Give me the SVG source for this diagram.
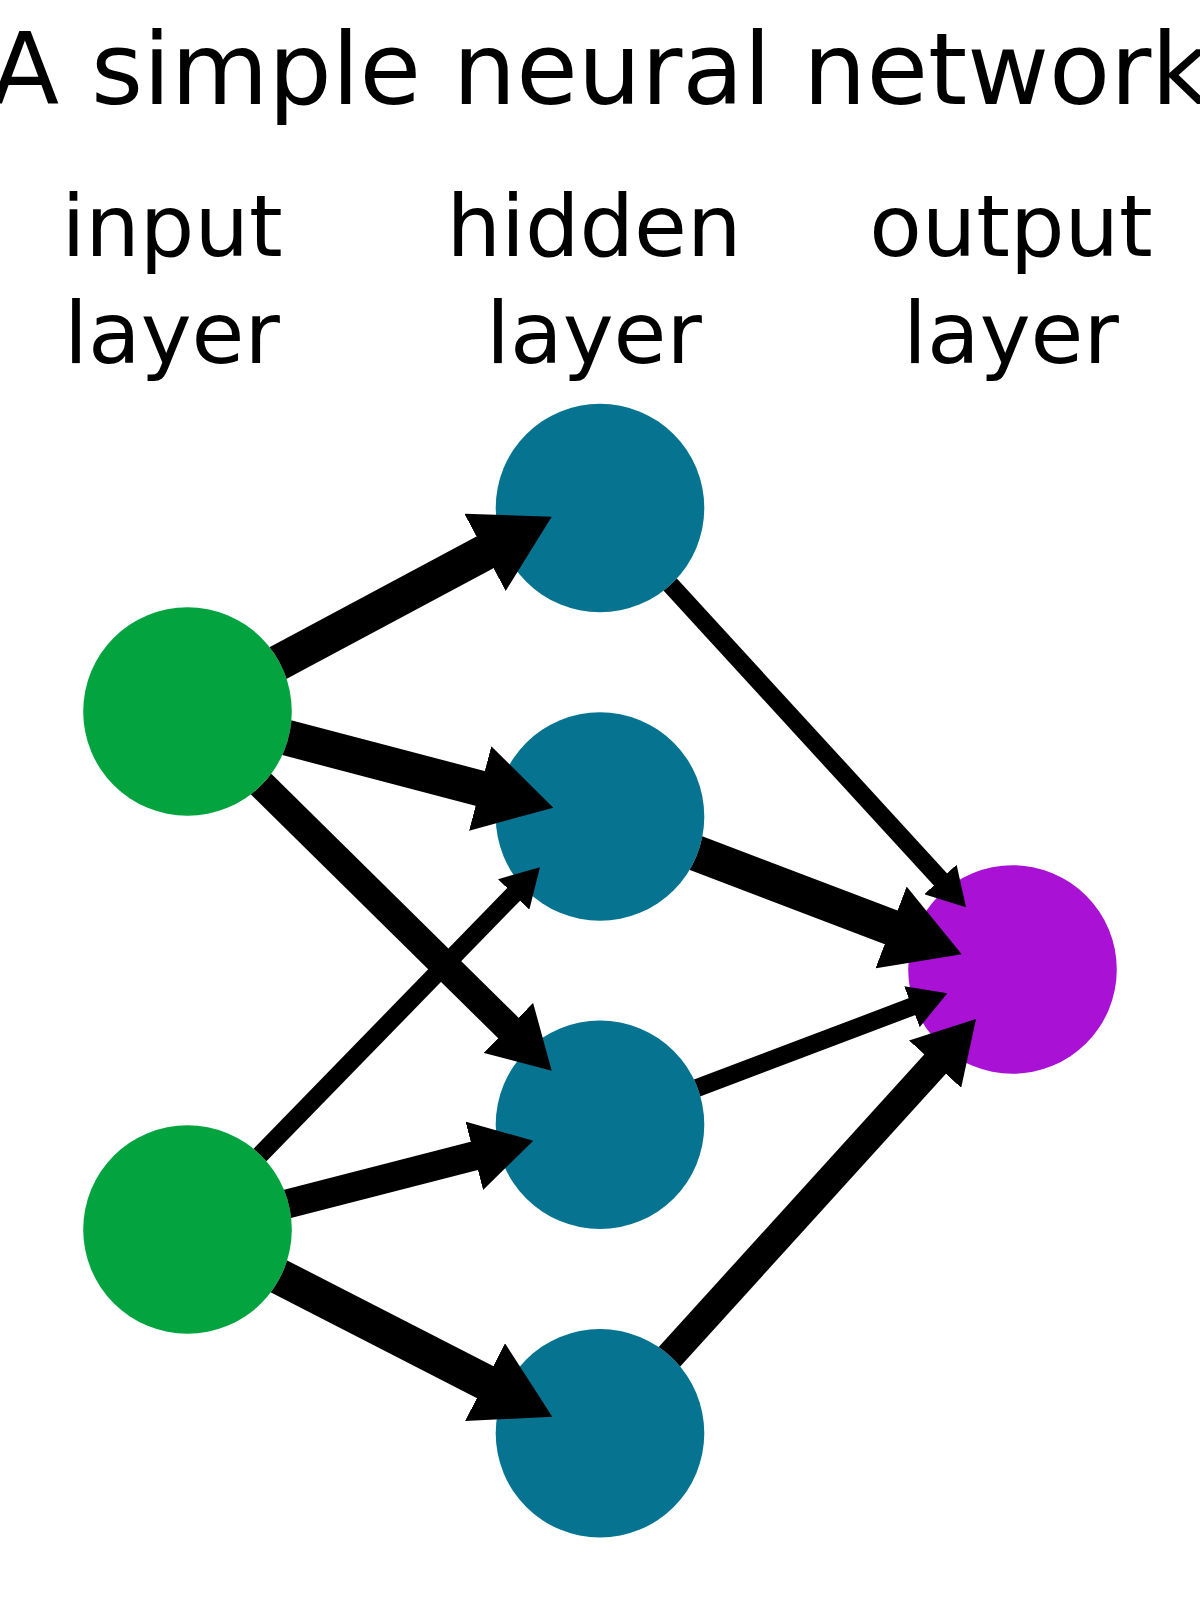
<svg xmlns="http://www.w3.org/2000/svg" width="1200" height="1600" viewBox="0 0 1200 1600">
<style>
text{font-family:"DejaVu Sans","Liberation Sans",sans-serif;fill:#000;text-anchor:middle}
.title{font-size:100px}
.lbl{font-size:86px}
.in{fill:#03a33f}
.hid{fill:#067491}
.out{fill:#a912d4}
.c{stroke:#000;fill:none;stroke-linecap:butt;marker-end:url(#head)}
.w36{stroke-width:36}
.w29{stroke-width:29}
.w18{stroke-width:18}
</style>
<defs>
<marker id="head" viewBox="0 0 21 24.3" refX="1" refY="12.15" markerWidth="2.1" markerHeight="2.43" markerUnits="strokeWidth" orient="auto">
<path d="M0,0 L21,12.15 L0,24.3 z" fill="#000"/>
</marker>
<clipPath id="xI1"><path clip-rule="evenodd" d="M0,0H1200V1600H0Z M83.2,711.5a104.3,104.3 0 1,0 208.6,0a104.3,104.3 0 1,0 -208.6,0Z"/></clipPath>
<clipPath id="xI2"><path clip-rule="evenodd" d="M0,0H1200V1600H0Z M83.2,1229.5a104.3,104.3 0 1,0 208.6,0a104.3,104.3 0 1,0 -208.6,0Z"/></clipPath>
<clipPath id="xH1"><path clip-rule="evenodd" d="M0,0H1200V1600H0Z M495.7,508a104.3,104.3 0 1,0 208.6,0a104.3,104.3 0 1,0 -208.6,0Z"/></clipPath>
<clipPath id="xH2"><path clip-rule="evenodd" d="M0,0H1200V1600H0Z M495.7,816.5a104.3,104.3 0 1,0 208.6,0a104.3,104.3 0 1,0 -208.6,0Z"/></clipPath>
<clipPath id="xH3"><path clip-rule="evenodd" d="M0,0H1200V1600H0Z M495.7,1124.75a104.3,104.3 0 1,0 208.6,0a104.3,104.3 0 1,0 -208.6,0Z"/></clipPath>
<clipPath id="xH4"><path clip-rule="evenodd" d="M0,0H1200V1600H0Z M495.7,1433.25a104.3,104.3 0 1,0 208.6,0a104.3,104.3 0 1,0 -208.6,0Z"/></clipPath>
</defs>
<rect width="1200" height="1600" fill="#fff"/>
<g id="title"><text class="title" x="600" y="104">A simple neural network</text></g>
<g id="labels">
<text class="lbl" x="172" y="256">input</text>
<text class="lbl" x="172" y="363">layer</text>
<text class="lbl" x="594" y="256">hidden</text>
<text class="lbl" x="594" y="363">layer</text>
<text class="lbl" x="1011" y="256">output</text>
<text class="lbl" x="1011" y="363">layer</text>
</g>
<g id="node-i1"><circle class="in" cx="187.5" cy="711.5" r="104.3"/></g>
<g id="node-i2"><circle class="in" cx="187.5" cy="1229.5" r="104.3"/></g>
<g id="node-h1"><circle class="hid" cx="600" cy="508" r="104.3"/></g>
<g id="node-h2"><circle class="hid" cx="600" cy="816.5" r="104.3"/></g>
<g id="node-h3"><circle class="hid" cx="600" cy="1124.75" r="104.3"/></g>
<g id="node-h4"><circle class="hid" cx="600" cy="1433.25" r="104.3"/></g>
<g id="node-o1"><circle class="out" cx="1012.5" cy="969.5" r="104.3"/></g>
<g id="connectors">
<path class="c w36" clip-path="url(#xI1)" d="M187.5,711.5 L488.21,550.66"/>
<path class="c w36" clip-path="url(#xI1)" d="M187.5,711.5 L483.67,789.39"/>
<path class="c w29" clip-path="url(#xI1)" d="M187.5,711.5 L510.41,1029.97"/>
<path class="c w18" clip-path="url(#xI2)" d="M187.5,1229.5 L514.89,893.10"/>
<path class="c w29" clip-path="url(#xI2)" d="M187.5,1229.5 L477.12,1155.13"/>
<path class="c w36" clip-path="url(#xI2)" d="M187.5,1229.5 L488.24,1383.83"/>
<path class="c w18" clip-path="url(#xH1)" d="M600,508 L941.67,880.76"/>
<path class="c w36" clip-path="url(#xH2)" d="M600,816.5 L894.42,928.67"/>
<path class="c w18" clip-path="url(#xH3)" d="M600,1124.75 L913.63,1006.04"/>
<path class="c w29" clip-path="url(#xH4)" d="M600,1433.25 L937.02,1061.95"/>
</g>
</svg>
